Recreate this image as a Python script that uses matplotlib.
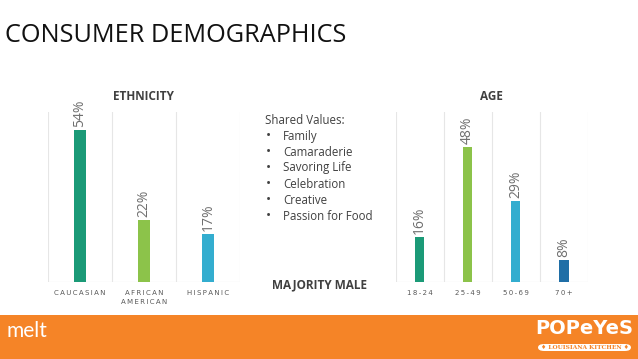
import matplotlib
matplotlib.use("Agg")
import matplotlib.pyplot as plt
from matplotlib.patches import Rectangle, FancyBboxPatch

W, H = 638, 359
DPI = 100

eth_categories = ["CAUCASIAN", "AFRICAN\nAMERICAN", "HISPANIC"]
eth_values = [54, 22, 17]
eth_colors = ["#1b9a77", "#8cc34a", "#33adcf"]

age_categories = ["18-24", "25-49", "50-69", "70+"]
age_values = [16, 48, 29, 8]
age_colors = ["#1b9a77", "#8cc34a", "#33adcf", "#1f6ea6"]

shared_values = ["Family", "Camaraderie", "Savoring Life", "Celebration", "Creative", "Passion for Food"]

plt.rcParams['font.family'] = ['Open Sans', 'DejaVu Sans']

fig = plt.figure(figsize=(W / DPI, H / DPI), dpi=DPI)
fig.patch.set_facecolor("white")

def px_axes(x0, y0, x1, y1):
    return fig.add_axes([x0 / W, 1 - y1 / H, (x1 - x0) / W, (y1 - y0) / H])

def spaced(s):
    return "\n".join("\u2009".join(list(line)) for line in s.split("\n"))

def bar_panel(ax, cats, vals, cols):
    n = len(cats)
    ax.set_xlim(-0.5, n - 0.5)
    ax.set_ylim(0, 60.5)
    xs = list(range(n))
    ax.bar(xs, vals, width=0.19, color=cols, zorder=3)
    for b in [i - 0.5 for i in range(n + 1)]:
        ax.axvline(b, color="#e6e6e6", lw=0.8, zorder=1)
    ax.axhline(0, color="#d9d9d9", lw=0.8, zorder=2)
    for x, v in zip(xs, vals):
        ax.text(x, v + 1.0, f"{v}%", rotation=90, ha="center", va="bottom",
                fontsize=10, color="#6f6f6f")
    ax.set_xticks(xs)
    ax.set_xticklabels([spaced(c) for c in cats], fontsize=5.0, color="#595959",
                       linespacing=1.6)
    for lbl in ax.get_xticklabels():
        lbl.set_fontfamily(["DejaVu Sans"])
    ax.tick_params(axis="x", length=0, pad=6)
    ax.set_yticks([])
    for s in ax.spines.values():
        s.set_visible(False)
    ax.patch.set_alpha(0)

ax1 = px_axes(48, 112, 240, 282)
bar_panel(ax1, eth_categories, eth_values, eth_colors)

ax2 = px_axes(395.5, 112, 588, 282)
bar_panel(ax2, age_categories, age_values, age_colors)

# Title
fig.text(5 / W, 1 - 35 / H, "CONSUMER DEMOGRAPHICS", fontsize=18.2, color="#111111",
         ha="left", va="center")

# Panel titles
fig.text(144 / W, 1 - 96 / H, "ETHNICITY", fontsize=8.5, fontweight="bold", color="#404040",
         ha="center", va="center")
fig.text(491 / W, 1 - 96 / H, "AGE", fontsize=8.5, fontweight="bold", color="#404040",
         ha="center", va="center")

# Shared values text
fig.text(265 / W, 1 - 120 / H, "Shared Values:", fontsize=8.3, color="#404040",
         ha="left", va="center")
for i, v in enumerate(shared_values):
    y = 136 + i * 16.0
    fig.text(265.5 / W, 1 - y / H, "•", fontsize=10, color="#404040", ha="left", va="center")
    fig.text(283 / W, 1 - y / H, v, fontsize=8.3, color="#404040", ha="left", va="center")

fig.text(319 / W, 1 - 285 / H, "MAJORITY MALE", fontsize=8.5, fontweight="bold", color="#404040",
         ha="center", va="center")

# Footer band
fig.patches.append(Rectangle((0, 0), 1, (H - 315) / H, transform=fig.transFigure,
                             facecolor="#f58427", edgecolor="none", zorder=0))
fig.text(7 / W, 1 - 331 / H, "melt", fontsize=15, color="white", ha="left", va="center",
         fontfamily=["Lato", "DejaVu Sans"])
fig.text(584 / W, 1 - 329 / H, "POPeYeS", fontsize=14, fontweight="heavy", color="white",
         ha="center", va="center", fontfamily=["DejaVu Sans"])
fig.patches.append(FancyBboxPatch((538 / W, 1 - 351 / H), 93 / W, 7 / H,
                                  boxstyle="round,pad=0,rounding_size=0.01",
                                  transform=fig.transFigure, facecolor="white",
                                  edgecolor="none", zorder=1))
fig.text(584.5 / W, 1 - 347.5 / H, "♦ LOUISIANA KITCHEN ♦", fontsize=4.2, fontweight="bold",
         color="#f58427", ha="center", va="center", fontfamily=["DejaVu Serif"], zorder=2)

fig.savefig("out.png", dpi=DPI, facecolor="white")
